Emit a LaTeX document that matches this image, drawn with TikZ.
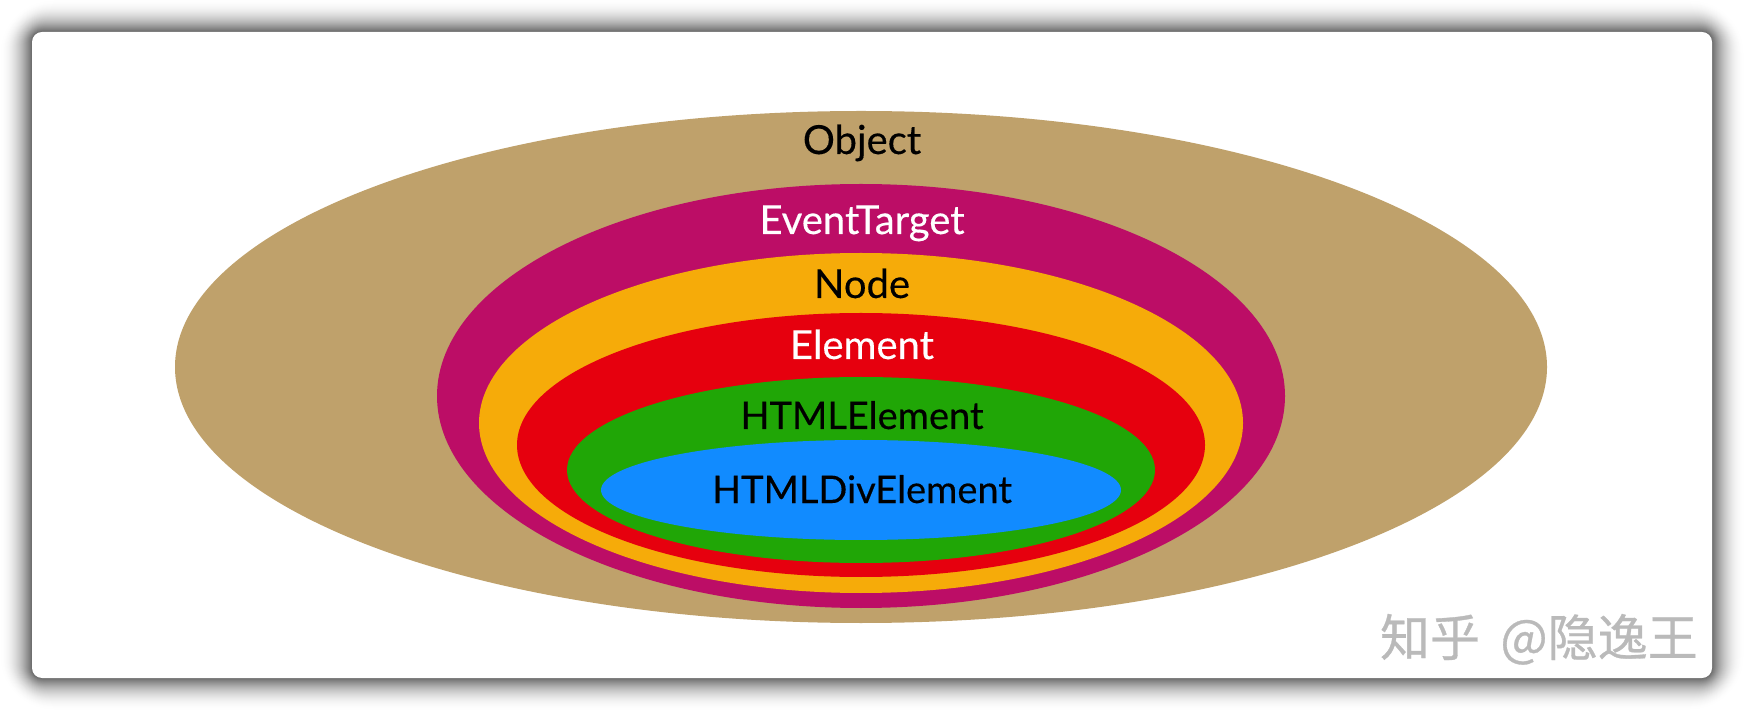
\documentclass[tikz,border=0pt]{standalone}
\usepackage{fontspec}
\setmainfont{Lato}[FakeBold=0.35]
\newfontfamily\cjk{Noto Sans CJK SC}[FakeBold=0.6]
\definecolor{cobject}{HTML}{BFA16B}
\definecolor{cevent}{HTML}{BC0D66}
\definecolor{cnode}{HTML}{F6AB09}
\definecolor{celement}{HTML}{E6000E}
\definecolor{chtml}{HTML}{20A606}
\definecolor{cdiv}{HTML}{118BFF}
\tikzset{
  label/.style={anchor=base,inner sep=0pt,font=\fontsize{19}{22}\selectfont},
  biglabel/.style={anchor=base,inner sep=0pt,font=\fontsize{20}{23}\selectfont},
  mark cjk/.style={anchor=base,inner sep=0pt,text=black!27,font=\cjk\fontsize{25}{27}\selectfont},
}
\begin{document}
\begin{tikzpicture}[x=0.5pt,y=-0.5pt]
\useasboundingbox (0,0) rectangle (1744,710);
\fill[white] (0,0) rectangle (1744,710);
% soft shadow round the card
\foreach \i in {32,31,...,0}{
  \pgfmathsetmacro{\lvl}{60*(1-\i/33)^2}
  \pgfmathsetmacro{\rad}{(10+1.4*\i)*0.5}
  \fill[black!\lvl!white,rounded corners=\rad pt] (32-\i,32-\i) rectangle (1712+\i,678+\i);
}
\fill[white,rounded corners=5pt] (32,32) rectangle (1712,678);
% nested ellipses
\fill[cobject]  (861,367) ellipse [x radius=686,y radius=256];
\fill[cevent]   (861,396) ellipse [x radius=424,y radius=212];
\fill[cnode]    (861,423) ellipse [x radius=382,y radius=170];
\fill[celement] (861,445) ellipse [x radius=344,y radius=132];
\fill[chtml]    (861,470) ellipse [x radius=294,y radius=93];
\fill[cdiv]     (861,490) ellipse [x radius=260,y radius=50];
% labels
\node[biglabel] (object) at (862,154) {Object};
\node[biglabel,text=white] (event) at (862,234) {EventTarget};
\node[biglabel] (nodel) at (862,298) {Node};
\node[biglabel,text=white] (elem) at (862,359) {Element};
\node[label] (html) at (862,429) {HTMLElement};
\node[label] (div) at (862,503) {HTMLDivElement};
% watermark
\node[mark cjk] (zhihu) at (1430,656) {知乎};
\node[mark cjk] (author) at (1599,656) {@隐逸王};
\end{tikzpicture}
\end{document}
